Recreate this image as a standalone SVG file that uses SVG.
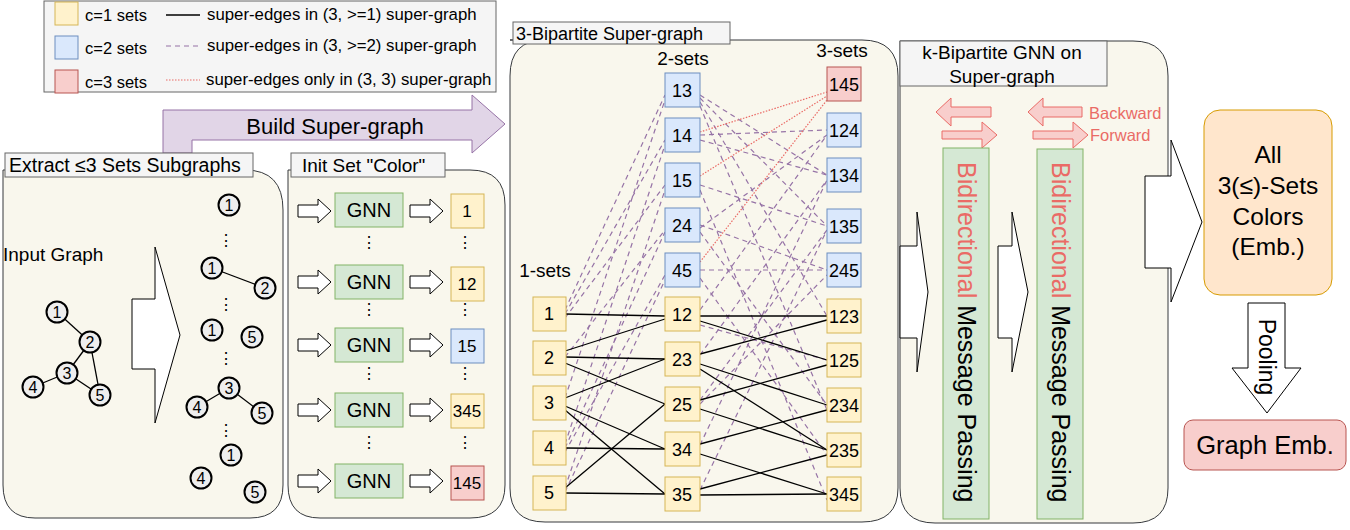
<svg xmlns="http://www.w3.org/2000/svg" width="1350" height="530" viewBox="0 0 1350 530">
<style>
text{font-family:"Liberation Sans",Arial,sans-serif;fill:#000}
.panel{fill:#f9f7ed;stroke:#36393d;stroke-width:1}
.title{fill:#f5f5f5;stroke:#666;stroke-width:1}
.y{fill:#fff2cc;stroke:#d6b656}
.b{fill:#dae8fc;stroke:#6c8ebf}
.r{fill:#f8cecc;stroke:#b85450}
.g{fill:#d5e8d4;stroke:#82b366}
.c{fill:#eee;stroke:#000;stroke-width:2}
.oa{fill:#fff;stroke:#000;stroke-width:1}
.k{stroke:#000;stroke-width:1.3;fill:none}
.d{stroke:#9673a6;stroke-width:1.2;stroke-dasharray:5 4;fill:none}
.rd{stroke:#ea6b66;stroke-width:1.2;stroke-dasharray:1.5 1.5;fill:none}
.dots{font-size:16px}
</style>
<!-- Legend -->
<g id="legend">
<rect x="44" y="1" width="452" height="91" fill="#f5f5f5" stroke="#666"/>
<rect class="y" x="55" y="2" width="23" height="23"/><text x="85" y="21" font-size="16.5">c=1 sets</text>
<rect class="b" x="55" y="36" width="23" height="23"/><text x="85" y="54" font-size="16.5">c=2 sets</text>
<rect class="r" x="55" y="70" width="23" height="23"/><text x="85" y="88" font-size="16.5">c=3 sets</text>
<line class="k" x1="166" y1="15" x2="200" y2="15"/><text x="207" y="20" font-size="16.8">super-edges in (3, &gt;=1) super-graph</text>
<line class="d" x1="166" y1="46" x2="200" y2="46" stroke-dasharray="4 3"/><text x="207" y="51" font-size="16.8">super-edges in (3, &gt;=2) super-graph</text>
<line class="rd" x1="166" y1="80" x2="200" y2="80"/><text x="206" y="85" font-size="16.8">super-edges only in (3, 3) super-graph</text>
</g>
<!-- Build arrow -->
<g id="build">
<path d="M163,153 L163,110 L472,110 L472,95 L505,124 L472,153 L472,140 L192,140 L192,153 Z" fill="#e1d5e7" stroke="#9673a6"/>
<text x="335" y="134" font-size="22" text-anchor="middle">Build Super-graph</text>
</g>
<!-- Panel 1 -->
<g id="panel1">
<path class="panel" d="M3,170 L245,170 Q283,170 283,210 L283,485 Q283,518 250,518 L35,518 Q3,518 3,485 Z"/>
<rect class="title" x="5" y="153" width="248" height="24"/>
<text x="9" y="172" font-size="19.5">Extract ≤3 Sets Subgraphs</text>
<text x="3" y="261" font-size="19">Input Graph</text>
<g class="k" stroke-width="2"><line x1="57" y1="312" x2="90" y2="342"/><line x1="90" y1="342" x2="67" y2="373"/><line x1="90" y1="342" x2="100" y2="395"/><line x1="67" y1="373" x2="33" y2="387"/><line x1="67" y1="373" x2="100" y2="395"/>
<line x1="212" y1="268" x2="265" y2="288"/><line x1="229" y1="388" x2="197" y2="407"/><line x1="229" y1="388" x2="262" y2="413"/></g>
<g font-size="16" text-anchor="middle">
<circle class="c" cx="57" cy="312" r="10.5"/><text x="57" y="318">1</text>
<circle class="c" cx="90" cy="342" r="10.5"/><text x="90" y="348">2</text>
<circle class="c" cx="67" cy="373" r="10.5"/><text x="67" y="379">3</text>
<circle class="c" cx="33" cy="387" r="10.5"/><text x="33" y="393">4</text>
<circle class="c" cx="100" cy="395" r="10.5"/><text x="100" y="401">5</text>
<circle class="c" cx="229" cy="205" r="10.5"/><text x="229" y="211">1</text>
<circle class="c" cx="212" cy="268" r="10.5"/><text x="212" y="274">1</text>
<circle class="c" cx="265" cy="288" r="10.5"/><text x="265" y="294">2</text>
<circle class="c" cx="212" cy="330" r="10.5"/><text x="212" y="336">1</text>
<circle class="c" cx="252" cy="337" r="10.5"/><text x="252" y="343">5</text>
<circle class="c" cx="229" cy="388" r="10.5"/><text x="229" y="394">3</text>
<circle class="c" cx="197" cy="407" r="10.5"/><text x="197" y="413">4</text>
<circle class="c" cx="262" cy="413" r="10.5"/><text x="262" y="419">5</text>
<circle class="c" cx="231" cy="455" r="10.5"/><text x="231" y="461">1</text>
<circle class="c" cx="201" cy="478" r="10.5"/><text x="201" y="484">4</text>
<circle class="c" cx="255" cy="492" r="10.5"/><text x="255" y="498">5</text>
</g>
<g class="dots" text-anchor="middle"><text x="226" y="246">⋮</text><text x="226" y="310">⋮</text><text x="226" y="364">⋮</text><text x="226" y="436">⋮</text></g>
<path class="oa" d="M132,299 L155,299 L155,247 L180,335 L155,423 L155,369 L132,369 Z"/>
</g>
<!-- Panel 2 -->
<g id="panel2">
<path class="panel" d="M288,170 L470,170 Q505,170 505,205 L505,485 Q505,518 470,518 L320,518 Q288,518 288,485 Z"/>
<rect class="title" x="291" y="153" width="154" height="24"/>
<text x="302" y="172" font-size="19">Init Set "Color"</text>
<g font-size="20" text-anchor="middle">
<rect class="g" x="335" y="193" width="68" height="34"/><text x="369" y="217">GNN</text>
<rect class="g" x="335" y="265" width="68" height="34"/><text x="369" y="289">GNN</text>
<rect class="g" x="335" y="328" width="68" height="34"/><text x="369" y="352">GNN</text>
<rect class="g" x="335" y="393" width="68" height="34"/><text x="369" y="417">GNN</text>
<rect class="g" x="335" y="464" width="68" height="34"/><text x="369" y="488">GNN</text>
</g>
<g font-size="17" text-anchor="middle">
<rect class="y" x="451" y="194" width="33" height="34"/><text x="467" y="217">1</text>
<rect class="y" x="451" y="267" width="33" height="34"/><text x="467" y="290">12</text>
<rect class="b" x="451" y="329" width="33" height="34"/><text x="467" y="352">15</text>
<rect class="y" x="451" y="394" width="33" height="34"/><text x="467" y="417">345</text>
<rect class="r" x="451" y="466" width="33" height="34"/><text x="467" y="489">145</text>
</g>
<g class="dots" text-anchor="middle"><text x="369" y="248">⋮</text><text x="369" y="315">⋮</text><text x="369" y="379">⋮</text><text x="369" y="448">⋮</text>
<text x="465" y="248">⋮</text><text x="465" y="315">⋮</text><text x="465" y="379">⋮</text><text x="465" y="448">⋮</text></g>
<g id="oarrows">
<path class="oa" d="M298,205 L318,205 L318,199 L331,211 L318,223 L318,217 L298,217 Z"/>
<path class="oa" d="M410,205 L430,205 L430,199 L443,211 L430,223 L430,217 L410,217 Z"/>
<path class="oa" d="M298,276 L318,276 L318,270 L331,282 L318,294 L318,288 L298,288 Z"/>
<path class="oa" d="M410,276 L430,276 L430,270 L443,282 L430,294 L430,288 L410,288 Z"/>
<path class="oa" d="M298,339 L318,339 L318,333 L331,345 L318,357 L318,351 L298,351 Z"/>
<path class="oa" d="M410,339 L430,339 L430,333 L443,345 L430,357 L430,351 L410,351 Z"/>
<path class="oa" d="M298,404 L318,404 L318,398 L331,410 L318,422 L318,416 L298,416 Z"/>
<path class="oa" d="M410,404 L430,404 L430,398 L443,410 L430,422 L430,416 L410,416 Z"/>
<path class="oa" d="M298,475 L318,475 L318,469 L331,481 L318,493 L318,487 L298,487 Z"/>
<path class="oa" d="M410,475 L430,475 L430,469 L443,481 L430,493 L430,487 L410,487 Z"/>
</g>
</g>
<!-- Panel 3 -->
<g id="panel3">
<path class="panel" d="M510,40 L862,40 Q898,40 898,76 L898,488 Q898,522 862,522 L545,522 Q510,522 510,488 L510,76 Q510,40 545,40 Z"/>
<rect class="title" x="513" y="22" width="217" height="22"/>
<text x="516" y="40" font-size="18">3-Bipartite Super-graph</text>
<text x="683" y="65" font-size="19" text-anchor="middle">2-sets</text>
<text x="842" y="57" font-size="19" text-anchor="middle">3-sets</text>
<text x="545" y="277" font-size="19" text-anchor="middle">1-sets</text>
</g>
<g id="connectors">
<g class="d">
<path d="M565,310 L665,95"/><path d="M565,314 L665,140"/><path d="M565,318 L665,185"/>
<path d="M565,357 L665,230"/>
<path d="M565,398 L665,100"/>
<path d="M565,444 L665,145"/><path d="M565,448 L665,232"/><path d="M565,452 L665,275"/>
<path d="M565,488 L665,190"/><path d="M565,492 L665,280"/>
</g>
<g class="k">
<path d="M565,314 L665,316"/><path d="M565,351 L665,319"/><path d="M565,357 L665,359"/><path d="M565,363 L665,404"/>
<path d="M565,398 L665,359"/><path d="M565,406 L665,449"/><path d="M565,410 L665,494"/>
<path d="M565,448 L665,449"/><path d="M565,488 L665,404"/><path d="M565,493 L665,494"/>
</g>
<g class="d">
<path d="M700,95 L827,175"/><path d="M700,98 L827,226"/><path d="M700,102 L827,316"/>
<path d="M700,135 L827,130"/><path d="M700,140 L827,175"/>
<path d="M700,185 L827,226"/>
<path d="M700,225 L827,270"/><path d="M700,228 L827,135"/><path d="M700,232 L827,405"/>
<path d="M700,270 L827,270"/>
<path d="M700,310 L827,135"/>
<path d="M700,355 L827,180"/>
<path d="M700,325 L827,360"/>
<path d="M700,400 L827,230"/><path d="M700,404 L827,275"/>
<path d="M700,445 L827,180"/>
<path d="M700,490 L827,230"/>
<path d="M700,106 L827,410"/>
<path d="M700,190 L827,500"/>
<path d="M700,278 L827,455"/>
</g>
<g class="rd">
<path d="M700,132 L827,92"/><path d="M700,176 L827,96"/><path d="M700,262 L827,100"/>
</g>
<g class="k">
<path d="M700,316 L827,316"/><path d="M700,321 L827,360"/>
<path d="M700,354 L827,320"/><path d="M700,364 L827,405"/><path d="M700,369 L827,450"/>
<path d="M700,400 L827,365"/><path d="M700,409 L827,450"/>
<path d="M700,444 L827,410"/><path d="M700,454 L827,494"/>
<path d="M700,489 L827,455"/><path d="M700,495 L827,494"/>
</g>
</g>
<g id="nodes" font-size="18" text-anchor="middle">
<rect class="y" x="533" y="297" width="33" height="34"/><text x="549" y="320">1</text>
<rect class="y" x="533" y="341" width="33" height="34"/><text x="549" y="364">2</text>
<rect class="y" x="533" y="386" width="33" height="34"/><text x="549" y="409">3</text>
<rect class="y" x="533" y="431" width="33" height="34"/><text x="549" y="454">4</text>
<rect class="y" x="533" y="476" width="33" height="34"/><text x="549" y="499">5</text>
<rect class="b" x="665" y="73" width="35" height="34"/><text x="682" y="97">13</text>
<rect class="b" x="665" y="118" width="35" height="34"/><text x="682" y="142">14</text>
<rect class="b" x="665" y="163" width="35" height="34"/><text x="682" y="187">15</text>
<rect class="b" x="665" y="208" width="35" height="34"/><text x="682" y="232">24</text>
<rect class="b" x="665" y="253" width="35" height="34"/><text x="682" y="277">45</text>
<rect class="y" x="665" y="297" width="35" height="34"/><text x="682" y="321">12</text>
<rect class="y" x="665" y="342" width="35" height="34"/><text x="682" y="366">23</text>
<rect class="y" x="665" y="387" width="35" height="34"/><text x="682" y="411">25</text>
<rect class="y" x="665" y="432" width="35" height="34"/><text x="682" y="456">34</text>
<rect class="y" x="665" y="477" width="35" height="34"/><text x="682" y="501">35</text>
<rect class="r" x="827" y="67" width="34" height="34"/><text x="844" y="91">145</text>
<rect class="b" x="827" y="113" width="34" height="34"/><text x="844" y="137">124</text>
<rect class="b" x="827" y="158" width="34" height="34"/><text x="844" y="182">134</text>
<rect class="b" x="827" y="209" width="34" height="34"/><text x="844" y="233">135</text>
<rect class="b" x="827" y="253" width="34" height="34"/><text x="844" y="277">245</text>
<rect class="y" x="827" y="299" width="34" height="34"/><text x="844" y="323">123</text>
<rect class="y" x="827" y="343" width="34" height="34"/><text x="844" y="367">125</text>
<rect class="y" x="827" y="388" width="34" height="34"/><text x="844" y="412">234</text>
<rect class="y" x="827" y="433" width="34" height="34"/><text x="844" y="457">235</text>
<rect class="y" x="827" y="477" width="34" height="34"/><text x="844" y="501">345</text>
</g>
<!-- Panel 4 -->
<g id="panel4">
<path class="panel" d="M900,41 L1133,41 Q1168,41 1168,76 L1168,488 Q1168,523 1133,523 L935,523 Q900,523 900,488 Z"/>
<rect class="title" x="900" y="41" width="207" height="45"/>
<text x="1002" y="59" font-size="19" text-anchor="middle">k-Bipartite GNN on</text>
<text x="1002" y="83" font-size="19" text-anchor="middle">Super-graph</text>
<path class="oa" d="M900,246 L917,246 L917,212 L928,292 L917,372 L917,338 L900,338 Z"/>
<path class="oa" d="M998,246 L1012,246 L1012,212 L1028,292 L1012,372 L1012,338 L998,338 Z"/>
<g fill="#f8cecc" stroke="#ea6b66">
<path d="M991,107 L951,107 L951,98 L936,112 L951,126 L951,117 L991,117 Z"/>
<path d="M942,131 L982,131 L982,122 L997,135 L982,148 L982,139 L942,139 Z"/>
<path d="M1082,107 L1043,107 L1043,98 L1028,112 L1043,126 L1043,117 L1082,117 Z"/>
<path d="M1033,131 L1073,131 L1073,122 L1088,135 L1073,148 L1073,139 L1033,139 Z"/>
</g>
<text x="1089" y="119" font-size="16.5" style="fill:#ea6b66">Backward</text>
<text x="1090" y="141" font-size="16.5" style="fill:#ea6b66">Forward</text>
<rect class="g" x="943" y="148" width="46" height="371"/>
<rect class="g" x="1037" y="149" width="46" height="370"/>
<text transform="translate(958,162) rotate(90)" font-size="25"><tspan style="fill:#ea6b66">Bidirectional</tspan> Message Passing</text>
<text transform="translate(1052,162) rotate(90)" font-size="25"><tspan style="fill:#ea6b66">Bidirectional</tspan> Message Passing</text>
</g>
<g id="out">
<path class="oa" d="M1145,176 L1171,176 L1171,140 L1202,222 L1171,302 L1171,268 L1145,268 Z"/>
<rect x="1204" y="110" width="128" height="185" rx="16" fill="#ffe6cc" stroke="#d79b00"/>
<g font-size="24.5" text-anchor="middle"><text x="1268" y="163">All</text><text x="1268" y="194">3(≤)-Sets</text><text x="1268" y="225">Colors</text><text x="1268" y="255">(Emb.)</text></g>
</g>
<g id="pool">
<path class="oa" d="M1248,303 L1285,303 L1285,368 L1301,368 L1267,413 L1232,368 L1248,368 Z"/>
<text transform="translate(1259,357) rotate(90)" font-size="23" text-anchor="middle">Pooling</text>
</g>
<g id="graphemb">
<rect x="1184" y="420" width="162" height="50" rx="9" fill="#f8cecc" stroke="#b85450"/>
<text x="1265" y="454" font-size="25.5" text-anchor="middle">Graph Emb.</text>
</g>
</svg>
